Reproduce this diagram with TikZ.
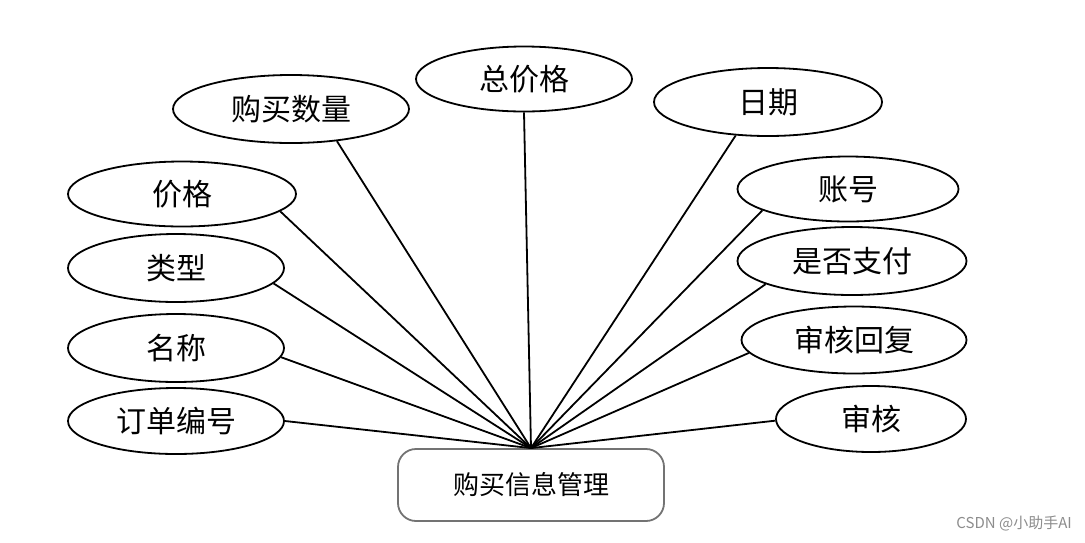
\documentclass[tikz,border=0pt]{standalone}
\usepackage{fontspec}
\newfontfamily\cjk{Noto Sans CJK SC}
\usetikzlibrary{shapes.geometric}
\begin{document}
\begin{tikzpicture}[x=1pt,y=-1pt,
  attr/.style={ellipse,draw=black,line width=1.8pt,inner sep=0pt,font=\cjk\fontsize{30}{30}\selectfont},
  ent/.style={rectangle,rounded corners=18pt,draw=black!55,line width=1.8pt,inner sep=0pt,
    minimum width=266pt,minimum height=72pt,font=\cjk\fontsize{26}{26}\selectfont},
  link/.style={line width=1.8pt}]
\useasboundingbox (0,0) rectangle (1085,542);
\node[ent] (c) at (531,485) {购买信息管理};
\node[attr,minimum width=236pt,minimum height=68pt] (a1) at (291,109) {购买数量};
\node[attr,minimum width=216pt,minimum height=65pt] (a2) at (524,79) {总价格};
\node[attr,minimum width=228pt,minimum height=68pt] (a3) at (768,102) {日期};
\node[attr,minimum width=228pt,minimum height=65pt] (a4) at (182,194) {价格};
\node[attr,minimum width=216pt,minimum height=68pt] (a5) at (176,268) {类型};
\node[attr,minimum width=216pt,minimum height=68pt] (a6) at (176,348) {名称};
\node[attr,minimum width=216pt,minimum height=66pt] (a7) at (176,421) {订单编号};
\node[attr,minimum width=221pt,minimum height=65pt] (a8) at (848,189) {账号};
\node[attr,minimum width=229pt,minimum height=68pt] (a9) at (852,261) {是否支付};
\node[attr,minimum width=225pt,minimum height=67pt] (a10) at (854,340) {审核回复};
\node[attr,minimum width=190pt,minimum height=66pt] (a11) at (871,419) {审核};
\foreach \n/\ang in {a1/-35,a2/-90,a3/-134,a4/-10.4,a5/-9.4,a6/-5.4,a7/-0.5,a8/-166.4,a9/-165.2,a10/-173.7,a11/-179.4}
  \draw[link] (\n.\ang) -- (c.north);
\node[font=\cjk\fontsize{15}{15}\selectfont,text=black!45,anchor=east,inner sep=0pt] (wm) at (1072,523) {CSDN @小助手AI};
\end{tikzpicture}
\end{document}
